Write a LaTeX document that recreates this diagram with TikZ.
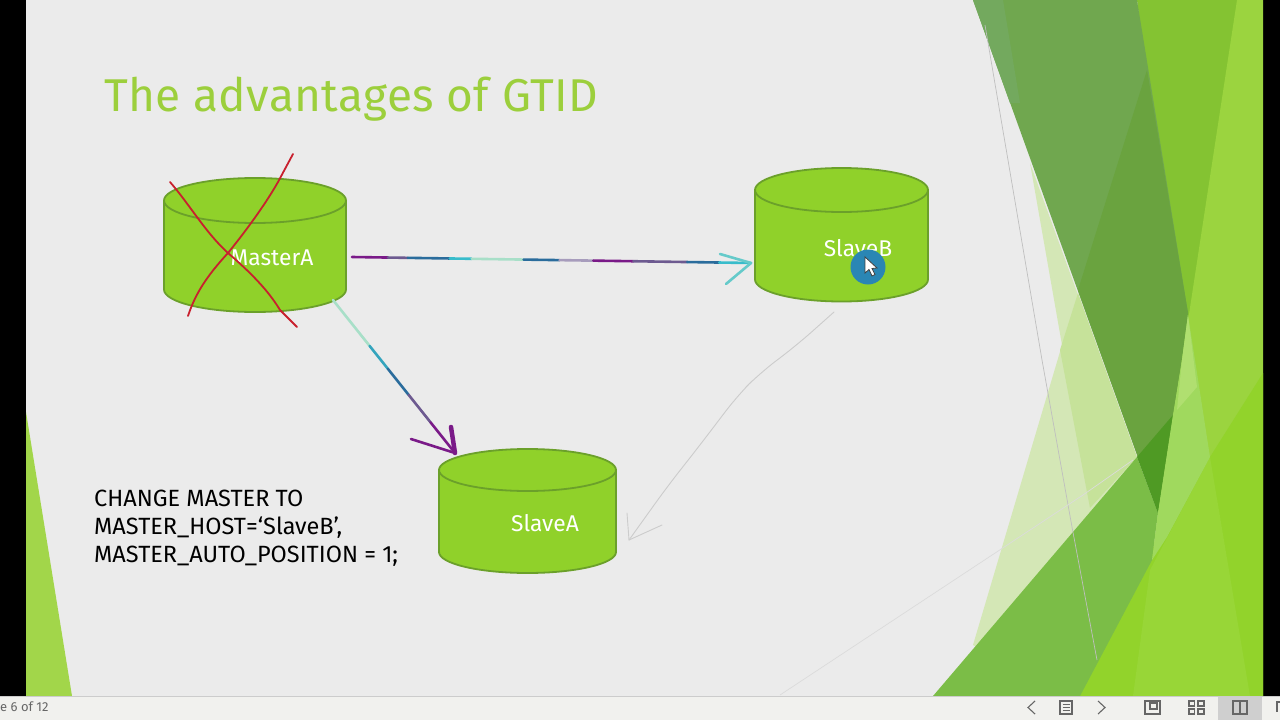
\documentclass[tikz,border=0pt]{standalone}
\usepackage{fontspec}
\usepackage{tikz}
\usetikzlibrary{calc}
\setmainfont{Fira Sans}
\definecolor{slideBg}{HTML}{EBEBEB}
\definecolor{barBg}{HTML}{F1F1EE}
\definecolor{dbFill}{HTML}{90D12A}
\definecolor{dbEdge}{HTML}{6BA02A}
\definecolor{titleGreen}{HTML}{9CCF3C}
\definecolor{inkPurple}{HTML}{7A1A88}
\definecolor{inkViolet}{HTML}{6D5A90}
\definecolor{inkGrey}{HTML}{A79CBC}
\definecolor{inkTeal}{HTML}{38BCCB}
\definecolor{inkMint}{HTML}{A8DFC8}
\definecolor{inkBlue}{HTML}{2A6C9C}
\definecolor{inkRed}{HTML}{C8202E}
\definecolor{cursorBlue}{HTML}{2A86B4}
% name, centre x, x radius, y radius, top y, bottom y
\newcommand{\dbDrum}[6]{
  \draw[dbBody] (#2-#3,#5) -- (#2-#3,#6) arc[start angle=180, end angle=360, x radius=#3pt, y radius=#4pt]
    -- (#2+#3,#5) arc[start angle=0, end angle=180, x radius=#3pt, y radius=#4pt] -- cycle;
  \draw[dbBody, fill=none] (#2-#3,#5) arc[start angle=180, end angle=360, x radius=#3pt, y radius=#4pt];
  \node[inner sep=0pt, minimum width=2*#3pt, minimum height=#6-#5+2*#4] (#1) at (#2,{(#5+#6)/2}) {};
}
\tikzset{
  dbBody/.style={draw=dbEdge, fill=dbFill, line width=1.8pt},
  dbLabel/.style={text=white, font=\fontsize{22.8}{23}\selectfont, inner sep=0pt},
  inkStroke/.style={line width=2.6pt, line cap=round, line join=round},
  redStroke/.style={draw=inkRed, line width=1.8pt, line cap=round, line join=round},
  greyStroke/.style={draw=black!20, line width=0.9pt, line cap=round, line join=round},
  barIcon/.style={draw=black!60, line width=1.1pt}
}
\begin{document}
\begin{tikzpicture}[x=1pt, y=-1pt]
  \useasboundingbox (0,0) rectangle (1280,720);
  % slide and window
  \fill[black] (0,0) rectangle (1280,720);
  \fill[slideBg] (26,0) rectangle (1263,696);
  \fill[color={rgb,255:red,162;green,214;blue,74}] (26,412) -- (26,696) -- (72,696) -- cycle;
  % theme shapes
  \fill[color={rgb,255:red,212;green,231;blue,182}] (1030,163) -- (1062,345) -- (973,645) -- (982,650) -- (1137,457) -- cycle;
  \fill[color={rgb,255:red,198;green,226;blue,154}] (1078,293) -- (1137,457) -- (1090,508) -- (1060,350) -- cycle;
  \fill[color={rgb,255:red,132;green,195;blue,50}] (1137,0) -- (1240,0) -- (1192,360) -- (1182,360) -- cycle;
  \fill[color={rgb,255:red,112;green,167;blue,79}] (973,0) -- (1137,0) -- (1188,313) -- (1182,360) -- (1158,513) -- cycle;
  \fill[color={rgb,255:red,115;green,169;blue,94}] (973,0) -- (1003,0) -- (1020,103) -- (1010,103) -- cycle;
  \fill[color={rgb,255:red,106;green,163;blue,63}] (1147,70) -- (1188,313) -- (1182,360) -- (1158,513) -- (1078,290) -- cycle;
  \fill[color={rgb,255:red,155;green,212;blue,63}] (1237,0) -- (1263,0) -- (1263,696) -- (1133,696) -- (1152,560) -- (1158,513) -- (1182,360) -- cycle;
  \fill[color={rgb,255:red,146;green,211;blue,43}] (1068,696) -- (1145,560) -- (1210,457) -- (1263,373) -- (1263,696) -- cycle;
  \fill[color={rgb,255:red,152;green,214;blue,55}] (1133,696) -- (1150,570) -- (1210,457) -- (1250,696) -- cycle;
  \fill[color={rgb,255:red,123;green,189;blue,71}] (933,696) -- (1137,457) -- (1158,513) -- (1152,560) -- (1080,696) -- cycle;
  \fill[color={rgb,255:red,79;green,154;blue,36}] (1137,457) -- (1173,415) -- (1158,513) -- cycle;
  \fill[color={rgb,255:red,160;green,217;blue,94}] (1188,315) -- (1210,457) -- (1167,537) -- (1152,560) -- (1158,513) -- (1173,415) -- (1182,360) -- cycle;
  \fill[color={rgb,255:red,176;green,223;blue,112}] (1188,315) -- (1197,387) -- (1177,410) -- (1182,360) -- cycle;
  % thin lines over the theme
  \draw[color=black!25, line width=0.7pt] (985,25) -- (1042,360) -- (1072,527) -- (1097,660);
  \draw[color=black!14, line width=0.7pt] (780,695) -- (1083,495) -- (1133,460);
  % window bar
  \fill[barBg] (0,696) rectangle (1280,720);
  \draw[color=black!20, line width=0.6pt] (0,696) -- (1280,696);
  \fill[color=black!19] (1218,697) rectangle (1262,720);
  \node[anchor=west, inner sep=0pt, text=black!60, font=\fontsize{13}{13}\selectfont] (pageNote) at (0,707) {e 6 of 12};
  \draw[barIcon] (1035,701) -- (1028,707.5) -- (1035,714);
  \draw[barIcon] (1098,701) -- (1105,707.5) -- (1098,714);
  \draw[barIcon] (1060,701) rectangle (1072,714);
  \draw[barIcon, line width=0.7pt] (1062.5,704) -- (1069.5,704) (1062.5,707) -- (1069.5,707) (1062.5,710) -- (1069.5,710);
  \draw[barIcon] (1145,701) rectangle (1160,714);
  \draw[barIcon] (1150,703) rectangle (1157,709);
  \draw[barIcon] (1189,701) rectangle (1194.5,706);
  \draw[barIcon] (1198,701) rectangle (1204,706);
  \draw[barIcon] (1189,709) rectangle (1194.5,714);
  \draw[barIcon] (1198,709) rectangle (1204,714);
  \draw[barIcon] (1233,701) rectangle (1247,714);
  \draw[barIcon] (1240,701) -- (1240,714);
  \draw[barIcon] (1276,702) -- (1280,702) (1277,702) -- (1277,712);
  % title and note
  \node[anchor=west, inner sep=0pt, text=titleGreen, font=\fontsize{46}{46}\selectfont\addfontfeature{LetterSpace=0.9}] (slideTitle) at (104,99) {The advantages of GTID};
  \node[anchor=north west, align=left, inner sep=0pt, text=black, font=\fontsize{23.5}{28}\selectfont] (changeNote) at (94,490)
    {CHANGE MASTER TO\\MASTER\_HOST=‘SlaveB’,\\MASTER\_AUTO\_POSITION = 1;};
  % databases
  \dbDrum{masterA}{255}{91}{22.5}{200.5}{289.5}
  \dbDrum{slaveB}{841.5}{86.5}{22}{190}{279.5}
  \dbDrum{slaveA}{527.5}{88.5}{21}{470}{552}
  \node[dbLabel] (masterLabel) at (272,258) {MasterA};
  \node[dbLabel] (slaveBLabel) at (858,248) {SlaveB};
  \node[dbLabel] (slaveALabel) at (545,523) {SlaveA};
  % red cross
  \coordinate (crossA) at (170,182);
  \coordinate (crossB) at (297,327);
  \coordinate (crossC) at (293,154);
  \coordinate (crossD) at (188,316);
  \draw[redStroke] (crossA) .. controls (190,205) and (205,232) .. (228,253) .. controls (250,272) and (268,290) .. (280,310) -- (crossB);
  \draw[redStroke] (crossC) -- (278,182) .. controls (265,205) and (245,232) .. (228,253) .. controls (205,278) and (195,295) .. (crossD);
  % ink arrows
  \coordinate (tipB) at (751,263);
  \coordinate (tailB) at (352,257);
  \foreach \from/\to/\col in {0/.09/inkPurple, .09/.14/inkViolet, .14/.245/inkBlue, .245/.30/inkTeal, .30/.43/inkMint, .43/.52/inkBlue, .52/.605/inkGrey, .605/.705/inkPurple, .705/.84/inkViolet, .84/.92/inkBlue, .92/1/inkTeal}
    \draw[inkStroke, draw=\col] ($(tailB)!\from!(tipB)$) -- ($(tailB)!\to!(tipB)$);
  \draw[inkStroke, draw=inkTeal!60!inkMint] (720,254) -- (tipB) -- (726,284);
  \coordinate (tipA) at (455,453);
  \coordinate (tailA) at (333,300);
  \foreach \from/\to/\col in {0/.3/inkMint, .3/.45/inkTeal!70!inkBlue, .45/.62/inkBlue, .62/.8/inkViolet, .8/1/inkPurple}
    \draw[inkStroke, draw=\col] ($(tailA)!\from!(tipA)$) -- ($(tailA)!\to!(tipA)$);
  \draw[inkStroke, draw=inkPurple] (411,439) -- (tipA);
  \draw[inkStroke, draw=inkPurple, line width=4.5pt] (451,427) -- (tipA);
  \coordinate (tailC) at (834,312);
  \coordinate (tipC) at (629,540);
  \draw[greyStroke, rounded corners=20pt] (tailC) -- (797,345) -- (760,373) -- (738,395) -- (700,445) -- (667,487) -- (tipC);
  \draw[greyStroke] (627,513) -- (tipC) -- (662,525);
  % pointer
  \fill[cursorBlue] (868,267) circle (17.5pt);
  \draw[fill=white, draw=black!75, line width=0.8pt] (865,257) -- (865,273) -- (869,269.5) -- (872,276) -- (875,274.5) -- (872,268.5) -- (877,268) -- cycle;
\end{tikzpicture}
\end{document}
